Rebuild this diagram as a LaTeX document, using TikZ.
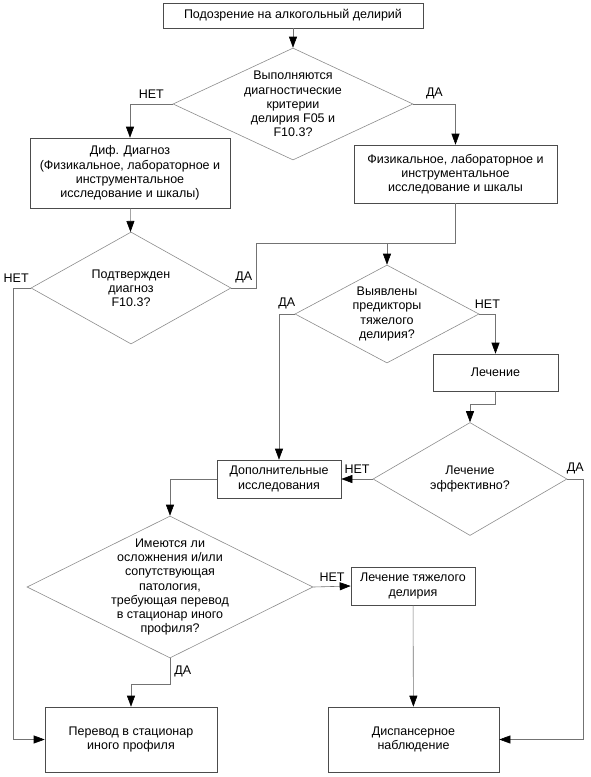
\documentclass[tikz,border=0pt]{standalone}
\usepackage{fontspec}
\setmainfont{Liberation Sans}
\usetikzlibrary{shapes.geometric,arrows.meta}

\tikzset{
  block/.style={draw=black!70, line width=0.6pt, fill=white, align=center, inner sep=2pt},
  decision/.style={diamond, draw=black!45, line width=0.6pt, inner sep=0pt},
  qtext/.style={align=center, inner sep=0pt},
  answer/.style={inner sep=1pt},
  link/.style={draw=black!55, line width=0.6pt},
  arrow/.style={link, -{Triangle[length=11pt,width=8pt,color=black]}},
}

\begin{document}
\begin{tikzpicture}[x=1pt,y=-1pt, every node/.style={font=\fontsize{12.5}{14.2}\selectfont}]
    \useasboundingbox (0,0) rectangle (591,777);
    % boxes and decisions
    \node[block, minimum width=260pt, minimum height=25pt] (suspect) at (293,15.5) {Подозрение на алкогольный делирий};
    \node[decision, minimum width=240pt, minimum height=112pt] (criteria) at (293,104) {};
    \node[qtext] (criteria text) at (criteria.center) {Выполняются\\диагностические\\критерии\\делирия F05 и\\F10.3?};
    \node[block, minimum width=200pt, minimum height=70pt] (diff) at (130,173) {Диф. Диагноз\\(Физикальное, лабораторное и\\инструментальное\\исследование и шкалы)};
    \node[block, minimum width=203pt, minimum height=58pt] (exam) at (455.5,174) {Физикальное, лабораторное и\\инструментальное\\исследование и шкалы};
    \node[decision, minimum width=200pt, minimum height=112pt] (confirmed) at (131,288) {};
    \node[qtext] (confirmed text) at (confirmed.center) {Подтвержден\\диагноз\\F10.3?};
    \node[decision, minimum width=184pt, minimum height=98pt] (predictors) at (387,314) {};
    \node[qtext] (predictors text) at (predictors.center) {Выявлены\\предикторы\\тяжелого\\делирия?};
    \node[block, minimum width=125pt, minimum height=37pt] (treat) at (495.5,372.5) {Лечение};
    \node[decision, minimum width=194pt, minimum height=113pt] (effective) at (470,479) {};
    \node[qtext] (effective text) at (effective.center) {Лечение\\эффективно?};
    \node[block, minimum width=124pt, minimum height=38pt] (extra) at (279,479) {Дополнительные\\исследования};
    \node[decision, minimum width=286pt, minimum height=142pt] (complic) at (170,587) {};
    \node[qtext] (complic text) at (complic.center) {Имеются ли\\осложнения и/или\\сопутствующая\\патология,\\требующая перевод\\в стационар иного\\профиля?};
    \node[block, minimum width=124pt, minimum height=38pt] (severe) at (413,586) {Лечение тяжелого\\делирия};
    \node[block, minimum width=172pt, minimum height=65pt] (transfer) at (131,739.5) {Перевод в стационар\\иного профиля};
    \node[block, minimum width=171pt, minimum height=65pt] (dispensary) at (413.5,739.5) {Диспансерное\\наблюдение};

    % connectors
    \draw[arrow] (suspect) -- (criteria);
    \draw[arrow] (criteria.west) -| node[answer, pos=0.25, above=4pt] {НЕТ} (diff.north);
    \draw[arrow] (criteria.east) -| node[answer, pos=0.25, above=4pt] {ДА} (exam.north);
    \draw[arrow] (diff) -- (confirmed);
    \draw[arrow] (confirmed.west) -- node[answer, above=4pt, xshift=-6pt] {НЕТ} ++(-17,0) |- (transfer.west);
    \coordinate (merge) at (387,243);
    \draw[link] (exam.south) |- (merge);
    \draw[link] (confirmed.east) -- node[answer, above=4pt] {ДА} ++(25,0) |- (merge);
    \draw[arrow] (merge) -- (predictors.north);
    \draw[arrow] (predictors.west) -| node[answer, pos=0.25, above=4pt] {ДА} (extra.north);
    \draw[arrow] (predictors.east) -| node[answer, pos=0.25, above=4pt] {НЕТ} (treat.north);
    \draw[arrow] (treat.south) -- ++(0,13) -| (effective.north);
    \draw[arrow] (effective.west) -- node[answer, above=4pt] {НЕТ} (extra.east);
    \draw[arrow] (effective.east) -- node[answer, above=4pt] {ДА} ++(16,0) |- (dispensary.east);
    \draw[arrow] (extra.west) -| (complic.north);
    \draw[arrow] (complic.east) -- node[answer, above=4pt] {НЕТ} (severe.west);
    \draw[arrow] (complic.south) -- node[answer, right=3pt] {ДА} ++(0,26) -| (transfer.north);
    \draw[arrow] (severe) -- (dispensary);
\end{tikzpicture}
\end{document}
